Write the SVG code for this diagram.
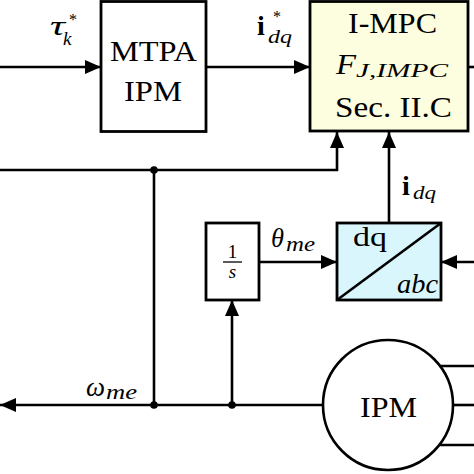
<svg xmlns="http://www.w3.org/2000/svg" width="474" height="474" viewBox="0 0 474 474">
<defs>
<marker id="ah" markerUnits="userSpaceOnUse" markerWidth="18" markerHeight="14" refX="16" refY="7" orient="auto">
<path d="M0,0 L16,7 L0,14 Z" fill="#000"/>
</marker>
<style>
.ln{fill:none;stroke:#000;stroke-width:2.6}
.bx{stroke:#000;stroke-width:2.8}
.t{font-family:"Liberation Serif","DejaVu Serif",serif;fill:#000}
.big{font-size:30px}
.it{font-style:italic}
</style>
</defs>
<rect width="474" height="474" fill="#fff"/>
<g id="connectors" class="ln">
<line x1="0" y1="67" x2="101" y2="67" marker-end="url(#ah)"/>
<line x1="206" y1="67" x2="310" y2="67" marker-end="url(#ah)"/>
<line x1="468" y1="67" x2="474" y2="67"/>
<polyline points="0,170 337,170 337,132" marker-end="url(#ah)"/>
<line x1="389" y1="223" x2="389" y2="132" marker-end="url(#ah)"/>
<line x1="154" y1="170" x2="154" y2="405"/>
<line x1="259" y1="262" x2="337" y2="262" marker-end="url(#ah)"/>
<line x1="474" y1="262" x2="441" y2="262" marker-end="url(#ah)"/>
<line x1="323" y1="405" x2="0" y2="405" marker-end="url(#ah)"/>
<line x1="232" y1="405" x2="232" y2="300" marker-end="url(#ah)"/>
<line x1="440" y1="366" x2="474" y2="366"/>
<line x1="453" y1="405" x2="474" y2="405"/>
<line x1="439" y1="445" x2="474" y2="445"/>
<circle cx="154" cy="170" r="3.8" fill="#000" stroke="none"/>
<circle cx="154" cy="405" r="3.8" fill="#000" stroke="none"/>
<circle cx="232" cy="405" r="3.8" fill="#000" stroke="none"/>
</g>
<g id="labels" class="t">
<text x="50" y="35" class="it" font-size="28" textLength="15" lengthAdjust="spacingAndGlyphs">τ</text>
<text x="63" y="45" class="it" font-size="19">k</text>
<text x="69" y="25" font-size="16">*</text>
<text x="257" y="35" font-size="28" font-weight="bold">i</text>
<text x="268" y="43" class="it" font-size="19" textLength="24" lengthAdjust="spacingAndGlyphs">dq</text>
<text x="273" y="22" font-size="16">*</text>
<text x="402" y="195" font-size="28" font-weight="bold">i</text>
<text x="413" y="199" class="it" font-size="19" textLength="23" lengthAdjust="spacingAndGlyphs">dq</text>
<text x="271" y="247" class="it" font-size="28" textLength="13" lengthAdjust="spacingAndGlyphs">θ</text>
<text x="286" y="251" class="it" font-size="20" textLength="29" lengthAdjust="spacingAndGlyphs">me</text>
<text x="86" y="396" class="it" font-size="28" textLength="19" lengthAdjust="spacingAndGlyphs">ω</text>
<text x="106" y="399" class="it" font-size="20" textLength="31" lengthAdjust="spacingAndGlyphs">me</text>
</g>
<g id="mtpa">
<rect class="bx" x="101" y="1.5" width="105" height="130" fill="#fff"/>
<text class="t big" x="110" y="61" textLength="87" lengthAdjust="spacingAndGlyphs">MTPA</text>
<text class="t big" x="124" y="101" textLength="58" lengthAdjust="spacingAndGlyphs">IPM</text>
</g>
<g id="impc">
<rect class="bx" x="310" y="1.5" width="158" height="129.5" fill="#fdfddf"/>
<text class="t big" x="348" y="33" textLength="89" lengthAdjust="spacingAndGlyphs">I-MPC</text>
<text class="t it" x="336" y="74" font-size="30" textLength="20" lengthAdjust="spacingAndGlyphs">F</text>
<text class="t it" x="356" y="77" font-size="19" textLength="92" lengthAdjust="spacingAndGlyphs">J,IMPC</text>
<text class="t big" x="335" y="117" textLength="117" lengthAdjust="spacingAndGlyphs">Sec. II.C</text>
</g>
<g id="integrator">
<rect class="bx" x="206" y="223" width="53" height="77" fill="#fff"/>
<text class="t" x="232.5" y="258" font-size="19" text-anchor="middle">1</text>
<line x1="223" y1="262" x2="242" y2="262" stroke="#000" stroke-width="1.3"/>
<text class="t it" x="232.5" y="278" font-size="19" text-anchor="middle">s</text>
</g>
<g id="dqabc">
<rect class="bx" x="337" y="223" width="104" height="77" fill="#d8f6fb"/>
<line x1="337" y1="300" x2="441" y2="223" stroke="#000" stroke-width="2.6"/>
<text class="t" x="353" y="246" font-size="28" textLength="34" lengthAdjust="spacingAndGlyphs">dq</text>
<text class="t it" x="397" y="293" font-size="28" textLength="41" lengthAdjust="spacingAndGlyphs">abc</text>
</g>
<g id="ipm">
<circle cx="388" cy="405" r="65" fill="#fff" stroke="#000" stroke-width="2.6"/>
<text class="t big" x="360" y="417" textLength="57" lengthAdjust="spacingAndGlyphs">IPM</text>
</g>
</svg>
